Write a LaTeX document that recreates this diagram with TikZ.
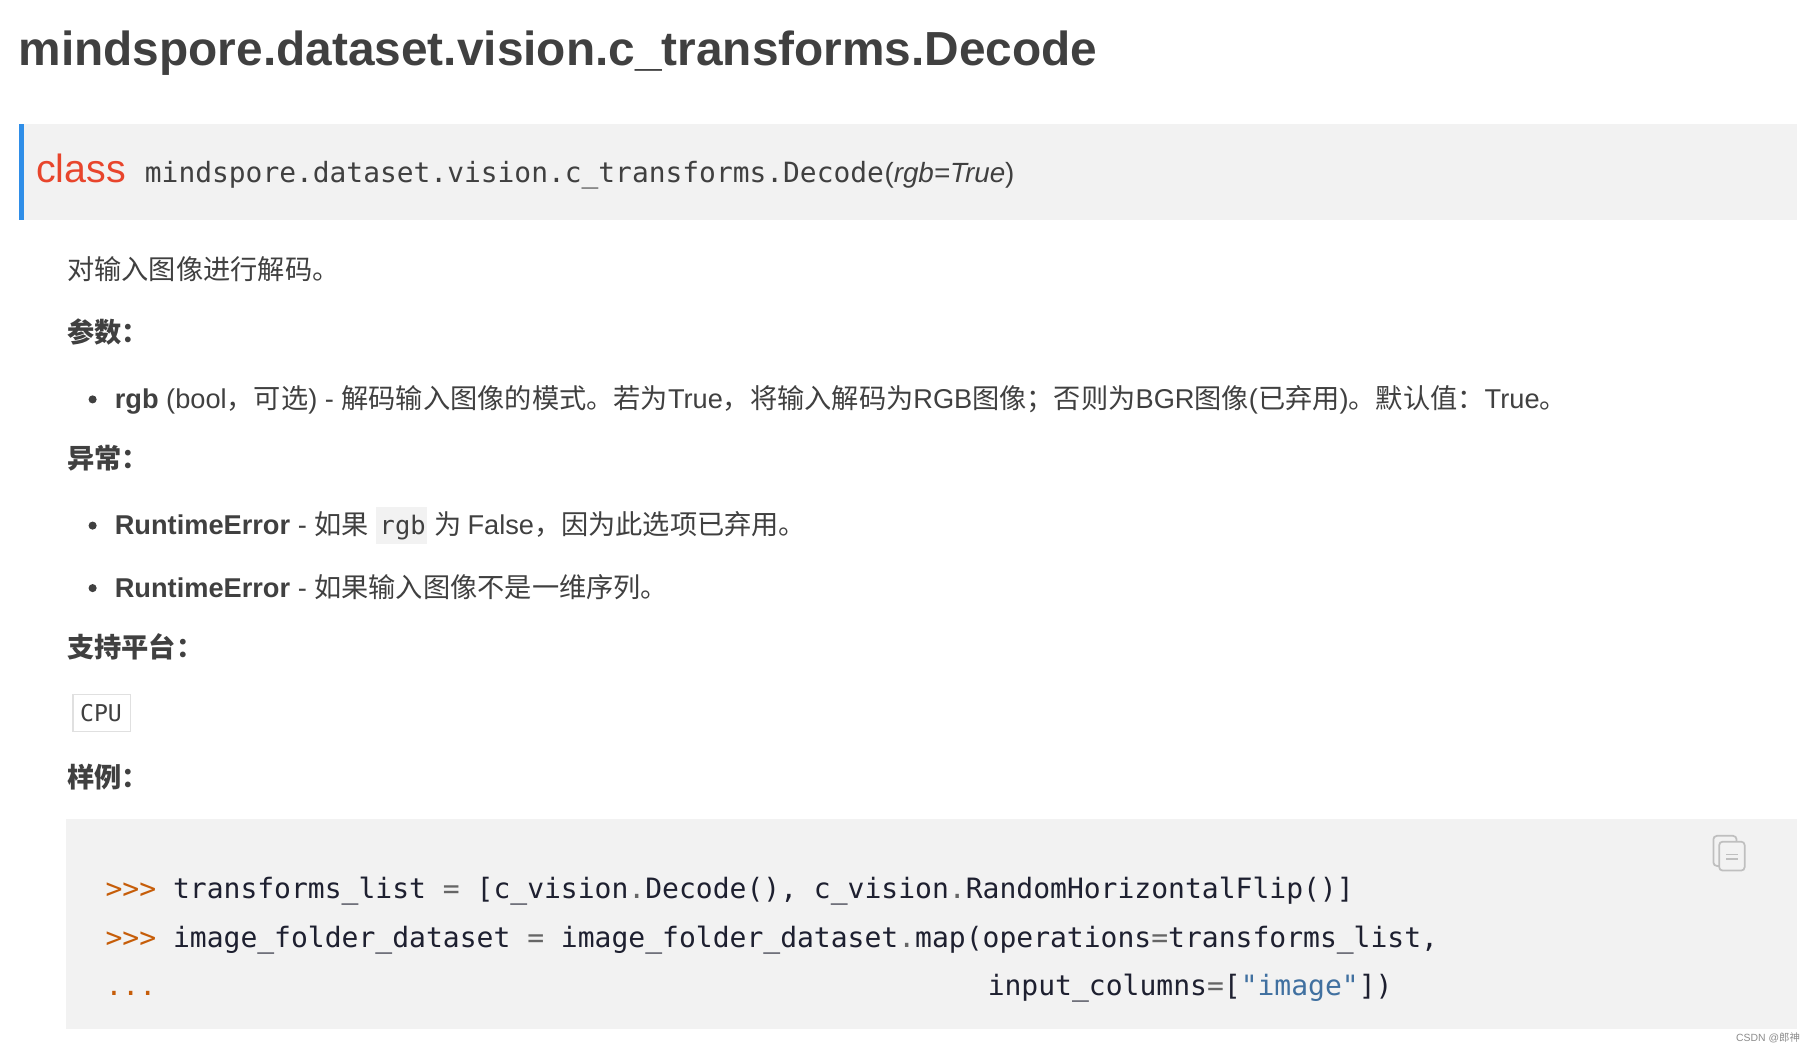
\documentclass[tikz,border=0pt]{standalone}
\usepackage{fontspec}
\setmainfont{Liberation Sans}
\newfontfamily\cj{Noto Sans CJK SC}
\newfontfamily\mono{DejaVu Sans Mono}
\definecolor{txt}{HTML}{404040}
\definecolor{boxbg}{HTML}{F2F2F2}
\definecolor{bar}{HTML}{2F8EE8}
\definecolor{cls}{HTML}{E8452C}
\definecolor{prm}{HTML}{C65D09}
\definecolor{code}{HTML}{1E2030}
\definecolor{op}{HTML}{666666}
\definecolor{str}{HTML}{4070A0}
\tikzset{t/.style={anchor=base west,inner sep=0,text=txt,font=\fontsize{23.5}{27}\selectfont},
 cl/.style={anchor=base west,inner sep=0,text=code,font=\mono\fontsize{24.2}{28}\selectfont}}
\begin{document}
\begin{tikzpicture}[x=1pt,y=-1pt]
\useasboundingbox (0,0) rectangle (1560,905);
\fill[white] (0,0) rectangle (1560,905);
\node[anchor=base west,inner sep=0,text=txt,font=\bfseries\fontsize{41.3}{45}\selectfont] (title) at (16,57) {mindspore.dataset.vision.c\_transforms.Decode};
% class box
\fill[boxbg] (16,107) rectangle (1552,190);
\fill[bar] (16,107) rectangle (21,190);
\node[anchor=base west,inner sep=0,text=cls,font=\fontsize{34}{38}\selectfont] (cls) at (31,158) {class};
\node[anchor=base west,inner sep=0,text=txt,font=\mono\fontsize{24.1}{28}\selectfont] (sig) at (125,158) {mindspore.dataset.vision.c\_transforms.Decode};
\node[anchor=base west,inner sep=0,text=txt,font=\fontsize{24}{28}\selectfont] (args) at (sig.base east) {(\textit{rgb=True})};
% body
\node[t] (d) at (58,241) {\cj 对输入图像进行解码。};
\node[t] (p) at (58,296) {\cj\bfseries 参数：};
\fill[txt] (80,345) circle (3.5);
\node[t] (b1) at (99,353) {\textbf{rgb} (bool\cj，可选\rmfamily) - \cj 解码输入图像的模式。若为\rmfamily True\cj，将输入解码为\rmfamily RGB\cj 图像；否则为\rmfamily BGR\cj 图像\rmfamily(\cj 已弃用\rmfamily)\cj 。默认值：\rmfamily True\cj 。};
\node[t] (e) at (58,405) {\cj\bfseries 异常：};
\fill[txt] (80,454) circle (3.5);
\node[t] (b2) at (99,462) {\textbf{RuntimeError} - \cj 如果};
\fill[boxbg] ([xshift=6]b2.base east) ++(0,-24) rectangle ++(44,32);
\node[t,font=\mono\fontsize{22}{26}\selectfont] (rgbc) at ([xshift=9]b2.base east) {rgb};
\node[t] (b2b) at ([xshift=7]rgbc.base east) {\cj 为 \rmfamily False\cj，因为此选项已弃用。};
\fill[txt] (80,508) circle (3.5);
\node[t] (b3) at (99,516) {\textbf{RuntimeError} - \cj 如果输入图像不是一维序列。};
\node[t] (s) at (58,568) {\cj\bfseries 支持平台：};
\draw[draw=black!12,line width=1] (63,600) rectangle (113,632);
\node[t,font=\mono\fontsize{20}{24}\selectfont] (cpu) at (69,623) {CPU};
\node[t] (ex) at (58,680) {\cj\bfseries 样例：};
% code box
\fill[boxbg] (57,707) rectangle (1552,889);
\draw[black!25,line width=1.5,rounded corners=3] (1480,722) rectangle (1500,748);
\draw[black!25,line width=1.5,fill=boxbg,rounded corners=3] (1485,727) rectangle (1507,752);
\draw[black!25,line width=1.2] (1491,738) -- (1501,738) (1491,742) -- (1501,742);
\node[cl] (l1) at (91,776) {\textcolor{prm}{>>>} transforms\_list \textcolor{op}{=} [c\_vision\textcolor{op}{.}Decode(), c\_vision\textcolor{op}{.}RandomHorizontalFlip()]};
\node[cl] (l2) at (91,818) {\textcolor{prm}{>>>} image\_folder\_dataset \textcolor{op}{=} image\_folder\_dataset\textcolor{op}{.}map(operations\textcolor{op}{=}transforms\_list,};
\node[cl] (l3) at (91,860) {\textcolor{prm}{...}};
\node[cl] (l3b) at (853,860) {input\_columns\textcolor{op}{=}[\textcolor{str}{"image"}])};
\node[anchor=base east,inner sep=0,text=black!45,font=\fontsize{9}{10}\selectfont] (wm) at (1555,900) {CSDN @\cj 郎神};
\end{tikzpicture}
\end{document}
